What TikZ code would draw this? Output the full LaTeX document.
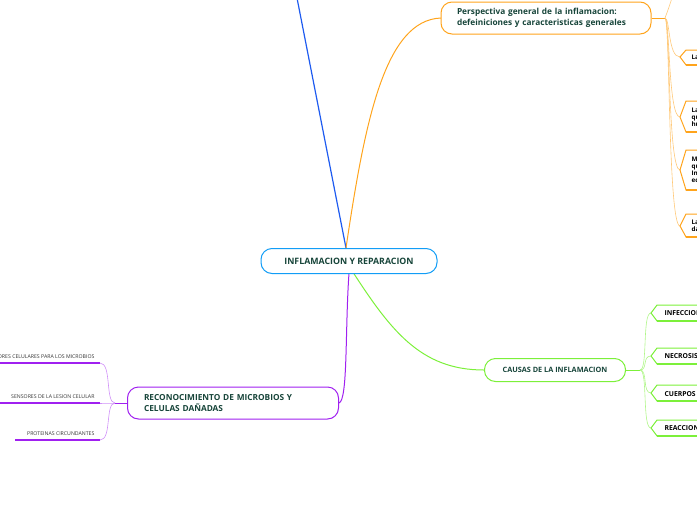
\documentclass[tikz,border=0pt]{standalone}
\usepackage{fontspec}
\setmainfont{Open Sans}
\definecolor{txt}{HTML}{17453A}
\definecolor{cblue}{HTML}{1E5BF0}
\definecolor{cor}{HTML}{FFA41C}
\definecolor{cgr}{HTML}{7CF03A}
\definecolor{cpu}{HTML}{A020F0}
\begin{document}
\begin{tikzpicture}[x=1pt,y=-1pt,
  main/.style={draw,rounded corners=11pt,line width=1pt,fill=white,text=txt,font=\bfseries\fontsize{8.3}{10.5}\selectfont,align=left,inner sep=0pt},
  leaf/.style={text=black,font=\bfseries\fontsize{6.8}{8}\selectfont,anchor=west,align=left},
  plabel/.style={text=black!80,font=\fontsize{5.2}{6}\selectfont,anchor=south east}]
\useasboundingbox (0,0) rectangle (697,520);
\begin{scope}
\clip (0,0) rectangle (697,520);
% connectors
\coordinate (ctop) at (346,248);
\coordinate (blueend) at (297,-2);
\draw[cblue,line width=1.2pt] (ctop) -- (blueend);
\coordinate (cbot) at (349,273);
\coordinate (oin) at (441,18);
\draw[cor,line width=1pt] (ctop) .. controls (365,120) and (385,20) .. (oin);
\coordinate (gin) at (484,370);
\draw[cgr,line width=1pt] (349,266) .. controls (390,330) and (420,370) .. (gin);
\coordinate (pin) at (339,403);
\draw[cpu,line width=1pt] (cbot) .. controls (345,330) and (348,400) .. (pin);
% main nodes
\node[main,draw=cblue!60!cyan,minimum width=176pt,minimum height=25pt,align=center,font=\bfseries\fontsize{8.8}{10}\selectfont] (c) at (349,261) {INFLAMACION Y REPARACION};
\node[main,draw=cor,minimum width=210pt,minimum height=32pt,text width=178pt] (o) at (546,18) {Perspectiva general de la inflamacion:\\defeiniciones y caracteristicas generales};
\node[main,draw=cgr,minimum width=141pt,minimum height=23pt,align=center,font=\bfseries\fontsize{7.3}{9}\selectfont] (g) at (555,370) {CAUSAS DE LA INFLAMACION};
\node[main,draw=cpu,minimum width=211pt,minimum height=32pt,text width=178pt] (p) at (233,403) {RECONOCIMIENTO DE MICROBIOS Y\\CELULAS DAÑADAS};
% orange children
\coordinate (ob) at (665,18);
\draw[cor,line width=1pt] (o.east) -- (ob);
\draw[cor!60,line width=0.6pt] (ob) .. controls (668,10) .. (672,-2);
\foreach \ya/\yb/\yc/\t/\n in {50/57/65/{La}/o1, 101/117/132/{La\\qu\\hu}/o2, 150/170/190/{Ma\\qu\\In\\ec}/o3, 214/226/237/{La\\da}/o4}{
  \draw[cor!60,line width=0.6pt] (ob) .. controls (670,18) and (668,\yb) .. (680,\yb);
  \draw[cor,fill=white,line width=1pt] (705,\ya) -- (686,\ya) -- (680,\yb) -- (686,\yc) -- (705,\yc);
  \draw[cor,line width=2pt] (686,\yc) -- (705,\yc);
  \node[leaf,font=\bfseries\fontsize{6.3}{7}\selectfont] (\n) at (688,\yb) {\t};
}
% green children
\coordinate (gb) at (640,370);
\draw[cgr,line width=1pt] (g.east) -- (gb);
\foreach \yb/\t/\n in {313/INFECCIONES/g1, 356/NECROSIS TISULAR/g2, 393/CUERPOS EXTRAÑOS/g3, 428/REACCIONES INMUNITARIAS/g4}{
  \draw[cgr!60,line width=0.6pt] (gb) .. controls (648,370) and (642,\yb) .. (651,\yb);
  \draw[cgr,fill=white,line width=1pt] (720,\yb-8) -- (657,\yb-8) -- (651,\yb) -- (657,\yb+8) -- (720,\yb+8);
  \draw[cgr,line width=2pt] (657,\yb+8) -- (720,\yb+8);
  \node[leaf] (\n) at (661,\yb) {\t};
}
% purple children
\coordinate (pb) at (115,403);
\draw[cpu,line width=1pt] (p.west) -- (pb);
\foreach \yb/\t/\n in {363/{RECEPTORES CELULARES PARA LOS MICROBIOS}/p1, 403/{SENSORES DE LA LESION CELULAR}/p2, 440/PROTEINAS CIRCUNDANTES/p3}{
  \draw[cpu!50,line width=0.6pt] (pb) .. controls (105,403) and (112,\yb) .. (100,\yb);
  \coordinate (\n e) at (100,\yb);
  \node[plabel] (\n) at (98,\yb-1) {\t};
}
\draw[cpu,line width=1.2pt] (p1e) -- (-5,363);
\draw[cpu,line width=1.2pt] (p2e) -- (-5,403);
\draw[cpu,line width=1.2pt] (p3e) -- (15,440);
\end{scope}
\end{tikzpicture}
\end{document}
